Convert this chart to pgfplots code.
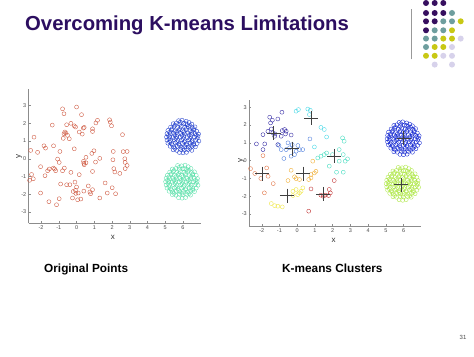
\documentclass[border=0pt]{standalone}
\usepackage{pgfplots}
\pgfplotsset{compat=1.18}
\usepackage{pgfplotstable}
\usepackage{fontspec}
\setmainfont{Liberation Sans}
\definecolor{titlecol}{RGB}{44,14,96}
\definecolor{dP}{RGB}{55,15,95}
\definecolor{dT}{RGB}{110,158,158}
\definecolor{dY}{RGB}{200,200,20}
\definecolor{dL}{RGB}{215,210,235}
\definecolor{redpt}{RGB}{205,80,55}
\definecolor{bluept}{RGB}{30,60,205}
\definecolor{greenpt}{RGB}{90,225,170}
\definecolor{cA}{RGB}{40,30,160}
\definecolor{cB}{RGB}{70,120,220}
\definecolor{cC}{RGB}{60,215,230}
\definecolor{cD}{RGB}{60,220,190}
\definecolor{cE}{RGB}{20,40,210}
\definecolor{cF}{RGB}{175,232,70}
\definecolor{cG}{RGB}{240,230,60}
\definecolor{cH}{RGB}{240,170,40}
\definecolor{cI}{RGB}{225,110,60}
\definecolor{cJ}{RGB}{190,40,40}

\pgfplotstableread{
x y
-0.79 2.82
0 2.92
-0.71 2.54
0.28 2.49
-1.37 1.90
-0.32 2.0
-0.56 1.92
-0.13 1.86
-0.06 1.79
-0.66 1.51
-0.6 1.45
-0.71 1.41
-0.51 1.32
-0.41 1.13
-0.75 1.15
0.15 1.51
0.32 1.39
0.38 1.73
0.43 1.77
0.9 1.69
0.9 1.54
1.09 2.02
1.18 2.17
1.86 2.2
1.9 2.07
1.97 1.86
2.59 1.36
-2.40 1.22
-2.59 0.47
-2.2 0.36
-1.84 0.73
-1.75 0.6
-1.30 0.73
-0.94 0.41
-0.13 0.56
0.98 0.45
0.86 0.3
0.53 0.08
0.39 -0.15
0.41 -0.26
0.43 -0.34
0.53 -0.23
1.07 -0.19
1.31 0.02
2.07 0.41
2.05 -0.06
2.63 0.40
2.85 0.41
2.72 0
2.74 -0.21
2.85 -0.38
2.74 -0.56
-1.07 -0.02
-0.98 -0.21
-1.31 -0.53
-1.24 -0.58
-1.18 -0.68
-1.54 -0.58
-1.63 -0.68
-0.69 -0.53
-0.79 -0.68
-0.32 -0.77
0.15 -0.9
0.9 -0.72
2.1 -0.56
2.16 -0.75
2.44 -0.83
-2.03 -0.45
-2.54 -0.89
-2.44 -1.13
-2.65 -1.22
-1.78 -0.96
-0.9 -1.43
-0.56 -1.47
-0.38 -1.47
-0.09 -1.32
0 -1.6
-0.06 -1.79
-0.04 -1.96
0.09 -1.94
-0.19 -1.85
-0.23 -2.22
0.06 -2.32
0.24 -2.28
0.41 -1.83
0.66 -1.54
0.75 -1.88
0.79 -1.98
0.9 -1.75
1.31 -2.22
1.61 -1.37
1.73 -1.94
2.01 -1.64
2.2 -1.98
-2.03 -1.94
-1.56 -2.43
-0.98 -2.26
-1.13 -2.6
}\redtab

\pgfplotstableread{
x y
5.75 2.15
5.95 2.18
6.18 2.12
6.35 2.05
5.45 1.98
5.62 2.02
5.83 1.95
6.05 2.0
6.25 1.93
6.5 1.96
5.3 1.78
5.5 1.82
5.7 1.76
5.9 1.83
6.1 1.78
6.3 1.81
6.52 1.75
6.68 1.8
5.15 1.6
5.35 1.63
5.55 1.57
5.78 1.62
5.97 1.58
6.18 1.64
6.4 1.57
6.6 1.62
6.78 1.55
5.1 1.42
5.28 1.4
5.48 1.45
5.68 1.38
5.88 1.44
6.08 1.4
6.28 1.46
6.48 1.38
6.68 1.43
6.88 1.4
5.07 1.22
5.25 1.25
5.45 1.2
5.65 1.26
5.85 1.21
6.05 1.27
6.25 1.2
6.45 1.25
6.65 1.22
6.85 1.27
5.1 1.05
5.3 1.02
5.5 1.08
5.72 1.03
5.92 1.06
6.12 1.01
6.32 1.07
6.52 1.02
6.72 1.05
6.9 1.0
5.15 0.88
5.35 0.85
5.57 0.9
5.77 0.84
5.98 0.87
6.2 0.85
6.4 0.9
6.6 0.84
6.8 0.86
5.28 0.7
5.48 0.66
5.68 0.7
5.9 0.65
6.1 0.69
6.3 0.66
6.52 0.7
6.7 0.67
5.45 0.5
5.65 0.47
5.87 0.52
6.07 0.48
6.28 0.51
6.5 0.47
5.8 0.35
6.0 0.33
6.2 0.36
5.85 2.07
6.15 1.98
5.55 1.9
6.4 1.88
5.4 1.7
5.82 1.7
6.2 1.72
6.6 1.7
5.25 1.5
5.65 1.5
6.05 1.52
6.5 1.5
5.18 1.32
5.55 1.33
5.95 1.32
6.35 1.33
6.75 1.33
5.2 1.13
5.6 1.15
6.0 1.14
6.4 1.15
6.8 1.15
5.25 0.95
5.65 0.96
6.08 0.95
6.5 0.95
5.4 0.78
5.8 0.76
6.2 0.77
6.6 0.76
5.55 0.58
6.0 0.58
6.4 0.58
}\bluetab

\pgfplotstableread{
x y
5.7 -0.38
5.92 -0.4
6.12 -0.36
6.3 -0.45
5.4 -0.58
5.6 -0.55
5.8 -0.6
6.0 -0.56
6.22 -0.6
6.45 -0.55
5.25 -0.76
5.45 -0.72
5.65 -0.78
5.85 -0.73
6.05 -0.77
6.27 -0.72
6.48 -0.78
6.65 -0.74
5.12 -0.93
5.32 -0.9
5.52 -0.95
5.72 -0.91
5.93 -0.95
6.13 -0.9
6.35 -0.96
6.55 -0.92
6.75 -0.94
5.05 -1.1
5.25 -1.13
5.43 -1.09
5.63 -1.14
5.83 -1.1
6.03 -1.15
6.23 -1.1
6.43 -1.13
6.63 -1.09
6.82 -1.12
5.02 -1.3
5.2 -1.28
5.4 -1.33
5.6 -1.28
5.8 -1.32
6.0 -1.27
6.2 -1.33
6.4 -1.29
6.6 -1.31
6.8 -1.27
5.05 -1.48
5.25 -1.5
5.45 -1.46
5.67 -1.51
5.87 -1.47
6.07 -1.5
6.27 -1.45
6.47 -1.5
6.67 -1.47
6.85 -1.5
5.1 -1.66
5.3 -1.7
5.52 -1.65
5.72 -1.69
5.93 -1.66
6.15 -1.7
6.35 -1.65
6.55 -1.69
6.75 -1.66
5.22 -1.84
5.42 -1.88
5.62 -1.83
5.83 -1.87
6.03 -1.84
6.25 -1.88
6.45 -1.83
6.65 -1.86
5.4 -2.03
5.6 -2.06
5.8 -2.01
6.0 -2.05
6.22 -2.02
6.43 -2.06
5.75 -2.2
5.95 -2.23
6.15 -2.19
5.8 -0.48
6.1 -0.57
5.5 -0.66
6.35 -0.66
5.35 -0.84
5.77 -0.84
6.15 -0.83
6.55 -0.85
5.2 -1.03
5.6 -1.03
6.0 -1.02
6.45 -1.04
5.13 -1.22
5.5 -1.21
5.9 -1.22
6.3 -1.21
6.7 -1.22
5.15 -1.4
5.55 -1.39
5.95 -1.41
6.35 -1.4
6.75 -1.39
5.2 -1.58
5.6 -1.59
6.03 -1.58
6.45 -1.6
5.35 -1.77
5.75 -1.78
6.15 -1.76
6.55 -1.78
5.5 -1.96
5.95 -1.95
6.35 -1.97
}\greentab

\pgfplotsset{
  myax/.style={
    scale only axis, width=172pt,
    axis x line*=bottom, axis y line*=left,
    axis line style={-, black!45, line width=0.5pt},
    xmin=-2.7, xmax=7,
    xtick={-2,-1,0,1,2,3,4,5,6}, ytick={-3,-2,-1,0,1,2,3},
    tick align=inside, major tick length=2pt,
    tick style={black!45, line width=0.4pt},
    /pgf/number format/assume math mode=true,
    tick label style={font=\fontsize{5.5}{6}\selectfont, text=black!70},
    xticklabel style={yshift=1pt},
    yticklabel style={xshift=1pt},
    label style={font=\fontsize{8}{9}\selectfont, text=black!80},
    xlabel={x}, ylabel={y},
    clip=false,
  },
  pt/.style={only marks, mark=o, mark size=2pt, mark options={line width=0.35pt}},
}

\begin{document}
\begin{tikzpicture}
\path[fill=white] (0pt,0pt) rectangle (474pt,355pt);
% decoration
\draw[black!40, line width=1pt] (411pt,297pt) -- (411pt,347pt);
\foreach \c/\xx/\yy in {dP/426/353.3, dP/434.7/353.3, dP/443.3/353.3,
  dP/426/343.3, dP/434.7/343.3, dP/443.3/343.3, dT/452/343.3,
  dP/426/335, dP/434.7/335, dT/443.3/335, dT/452/335, dY/460.7/335,
  dP/426/326, dT/434.7/326, dT/443.3/326, dY/452/326,
  dT/426/317.7, dT/434.7/317.7, dY/443.3/317.7, dY/452/317.7, dL/460.7/317.7,
  dT/426/309.3, dY/434.7/309.3, dY/443.3/309.3, dL/452/309.3,
  dY/426/300.5, dY/434.7/300.5, dL/443.3/300.5, dL/452/300.5,
  dL/434.7/291.7, dL/452/291.7}
  \fill[\c] (\xx pt,\yy pt) circle (3pt);
\path[use as bounding box] (0pt,0pt) rectangle (474pt,355pt);
\node[anchor=base west, inner sep=0, font=\fontsize{20.3}{24}\selectfont\bfseries, text=titlecol] at (25pt,325.5pt) {Overcoming K-means Limitations};
\node[anchor=base west, inner sep=0, font=\fontsize{11.8}{14}\selectfont\bfseries] at (44pt,83.3pt) {Original Points};
\node[anchor=base west, inner sep=0, font=\fontsize{11.8}{14}\selectfont\bfseries] at (282pt,83.3pt) {K-means Clusters};
\node[anchor=center, inner sep=0, font=\fontsize{6}{7}\selectfont, text=black!70] at (463pt,19pt) {31};

\begin{axis}[myax, at={(28.7pt,133pt)}, anchor=south west, height=134.3pt,
  ymin=-3.65, ymax=3.94,
  xlabel style={at={(axis description cs:0.49,0)}, anchor=center, yshift=-14pt},
  ylabel style={at={(axis description cs:-0.056,0.5)}, anchor=center}]
\addplot[pt, color=redpt] table {\redtab};
\addplot[pt, color=bluept] table {\bluetab};
\addplot[pt, color=greenpt] table {\greentab};
\end{axis}

\begin{axis}[myax, at={(249.3pt,130pt)}, anchor=south west, height=126.7pt,
  ymin=-3.69, ymax=3.43,
  xlabel style={at={(axis description cs:0.49,0)}, anchor=center, yshift=-14pt},
  ylabel style={at={(axis description cs:-0.048,0.52)}, anchor=center}]
\addplot[pt, color=cE] table {\bluetab};
\addplot[pt, color=cF] table {\greentab};
\addplot[pt, color=cA] coordinates {(-0.86,2.72) (-1.55,2.44) (-1.40,2.27) (-1.09,2.34) (-1.50,2.12) (-1.46,1.78) (-1.65,1.65) (-1.37,1.56) (-1.27,1.37) (-1.93,1.46) (-0.84,1.69) (-0.71,1.75) (-0.62,1.65) (-0.66,1.50) (-0.90,1.37) (-0.34,1.44) (-2.30,0.94) (-1.83,0.94) (-1.93,0.62) (-1.09,0.90) (-1.25,1.5)};
\addplot[pt, color=cB] coordinates {(-1.03,0.86) (-0.90,0.62) (-0.52,1.0) (-0.28,0.90) (0.04,0.85) (0.13,0.62) (0.31,0.62) (-0.06,0.53) (-0.34,0.25) (-0.15,0.34) (-0.75,0.12) (-0.43,0.72) (-0.62,0.62) (0.72,1.22)};
\addplot[pt, color=cC] coordinates {(-0.06,2.78) (0.07,2.87) (0.60,2.90) (0.74,2.83) (0.69,2.59) (1.34,1.87) (1.53,1.75) (1.66,1.33) (0.97,0.77)};
\addplot[pt, color=cD] coordinates {(2.56,1.28) (2.65,1.09) (2.37,0.62) (2.60,0.34) (2.84,0.10) (2.71,-0.03) (2.37,-0.03) (1.81,-0.31) (2.22,-0.65) (2.60,-0.65) (1.16,0.15) (1.34,0.25) (1.53,0.34) (1.66,0.43) (1.99,0.34)};
\addplot[pt, color=cH] coordinates {(0.88,-0.03) (1.06,-0.60) (0.97,-0.69) (0.78,-0.78) (-0.34,-0.54) (-0.15,-0.91) (-0.06,-1.01) (0.13,-1.06) (-0.52,-1.12) (0.65,-1.06) (0.78,-0.97)};
\addplot[pt, color=cG] coordinates {(-0.24,-1.72) (-0.06,-1.62) (0.13,-1.81) (0.22,-1.72) (0.03,-1.91) (-1.46,-2.41) (-1.27,-2.53) (-1.09,-2.56) (-0.84,-2.60) (-0.24,-1.96) (0.32,-1.53)};
\addplot[pt, color=cI] coordinates {(-2.63,-0.45) (-2.39,-0.72) (-1.72,-0.41) (-1.64,-0.88) (-1.93,0.28) (-1.35,-1.29) (-1.85,-1.81) (-2.05,-1.0)};
\addplot[pt, color=cJ] coordinates {(0.78,-1.59) (1.81,-1.62) (1.87,-1.81) (1.77,-1.96) (1.34,-1.94) (1.47,-2.0) (1.59,-1.94) (0.65,-2.84) (2.09,-1.12)};
\addplot[only marks, mark=+, mark size=7pt, mark options={line width=0.5pt}, color=black!75] coordinates {(-1.33,1.56) (-0.3,0.68) (0.78,2.4) (2.1,0.27) (0.32,-0.73) (-0.58,-1.96) (-1.98,-0.73) (1.47,-1.87) (6.0,1.25) (5.85,-1.35)};
\end{axis}
\end{tikzpicture}
\end{document}
